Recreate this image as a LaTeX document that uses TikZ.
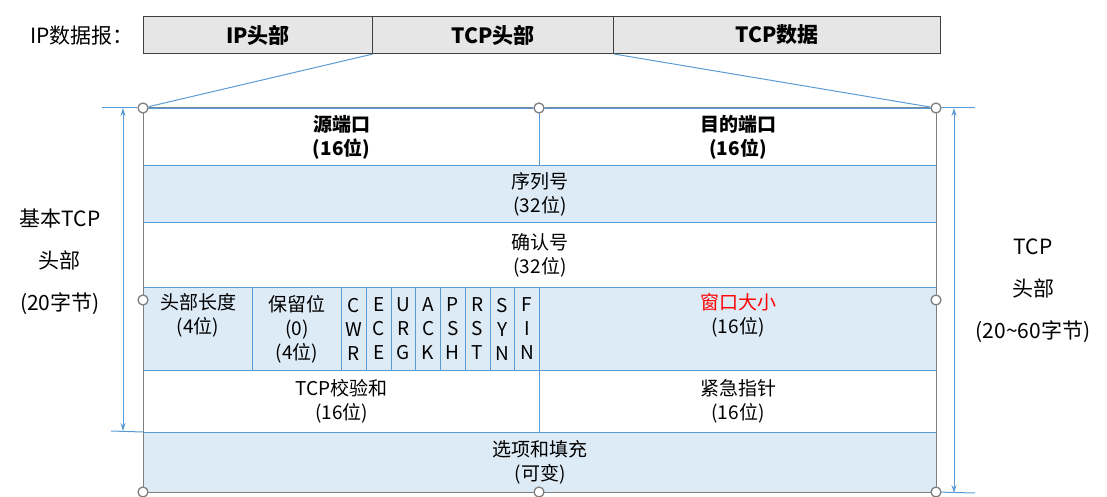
\documentclass[tikz,border=0pt]{standalone}
\usepackage{fontspec}
\setmainfont{Noto Sans CJK SC}
\usetikzlibrary{arrows.meta, positioning}
\definecolor{lblue}{HTML}{5B9BD5}
\definecolor{fblue}{HTML}{DDEBF7}
\definecolor{egrey}{HTML}{7F7F7F}
\definecolor{bgrey}{HTML}{E7E6E6}
\definecolor{wred}{HTML}{FF0000}
\tikzset{
  every picture/.style={line width=1pt},
  bar/.style={draw=black!75, fill=bgrey, anchor=north west, inner sep=0pt, minimum height=37pt, font=\fontsize{21}{24}\selectfont\bfseries},
  field/.style={draw=lblue, fill=#1, anchor=north west, inner sep=0pt, align=center, font=\fontsize{19}{24}\selectfont},
  field/.default=white,
  flag/.style={field=fblue, minimum width=24.75pt, minimum height=83pt},
  knob/.style={circle, draw=egrey, fill=white, line width=1.3pt, minimum size=10pt, inner sep=0pt},
  link/.style={draw=lblue},
  dim/.style={draw=lblue, {Stealth[length=8pt,width=5pt]}-{Stealth[length=8pt,width=5pt]}},
  side/.style={align=center, font=\fontsize{21}{42}\selectfont},
}

\begin{document}
\begin{tikzpicture}[x=1pt, y=-1pt]
  \useasboundingbox (0,0) rectangle (1107,497);
  % IP datagram bar
  \node[anchor=west, inner sep=0pt, font=\fontsize{21}{24}\selectfont] (dgram) at (30,36) {IP数据报：};
  \node[bar, minimum width=229pt] (iphdr) at (143,16) {IP头部};
  \node[bar, minimum width=241pt] (tcphdr) at (372,16) {TCP头部};
  \node[bar, minimum width=327pt] (tcpdata) at (613,16) {TCP数据};
  % header fields
  \node[field, font=\fontsize{19}{24}\selectfont\bfseries, minimum width=396pt, minimum height=57pt] (srcport) at (143,108) {源端口\\(16位)};
  \node[field, font=\fontsize{19}{24}\selectfont\bfseries, minimum width=397pt, minimum height=57pt] (dstport) at (539,108) {目的端口\\(16位)};
  \node[field=fblue, minimum width=793pt, minimum height=57pt] (seq) at (143,165) {序列号\\(32位)};
  \node[field, minimum width=793pt, minimum height=65pt] (ack) at (143,222) {确认号\\(32位)};
  \node[field=fblue, minimum width=109pt, minimum height=83pt] (hlen) at (143,287) {头部长度\\(4位)\\\strut};
  \node[field=fblue, minimum width=89pt, minimum height=83pt] (rsv) at (252,287) {保留位\\(0)\\(4位)};
  \foreach \a/\b/\c [count=\i from 0] in {C/W/R, E/C/E, U/R/G, A/C/K, P/S/H, R/S/T, S/Y/N, F/I/N}
    \node[flag] (flag\i) at (341+\i*24.75, 287) {\a\\\b\\\c};
  \node[field=fblue, minimum width=397pt, minimum height=83pt] (win) at (539,287) {\textcolor{wred}{窗口大小}\\(16位)\\\strut};
  \node[field, minimum width=396pt, minimum height=62pt] (csum) at (143,370) {TCP校验和\\(16位)};
  \node[field, minimum width=397pt, minimum height=62pt] (urgptr) at (539,370) {紧急指针\\(16位)};
  \node[field=fblue, minimum width=793pt, minimum height=60pt] (opts) at (143,432) {选项和填充\\(可变)};
  % knobs
  \node[knob] (ktl) at (143,108) {};
  \node[knob] (ktm) at (539,108) {};
  \node[knob] (ktr) at (936,108) {};
  \node[knob] (kml) at (143,300) {};
  \node[knob] (kmr) at (936,300) {};
  \node[knob] (kbl) at (143,492) {};
  \node[knob] (kbm) at (539,492) {};
  \node[knob] (kbr) at (936,492) {};
  % frame
  \draw[draw=egrey!70!lblue] (ktl) -- (ktm);
  \draw[draw=egrey!70!lblue] (ktm) -- (ktr);
  \draw[draw=egrey] (ktl) -- (kml);
  \draw[draw=egrey] (kml) -- (kbl);
  \draw[draw=egrey] (ktr) -- (kmr);
  \draw[draw=egrey] (kmr) -- (kbr);
  \draw[draw=egrey] (kbl) -- (kbm);
  \draw[draw=egrey] (kbm) -- (kbr);
  % zoom lines
  \draw[link] (iphdr.south east) -- (ktl);
  \draw[link] (tcphdr.south east) -- (ktr);
  % left dimension
  \coordinate (lt) at (102,108);
  \coordinate (lb) at (111,431);
  \coordinate (la) at (123,108);
  \coordinate (lz) at (123,431);
  \draw[link] (lt) -- (ktl);
  \draw[link] (lb) -- (opts.north west);
  \draw[dim] (la) -- (lz);
  \node[side] (basehdr) at (60,262) {基本TCP\\头部\\(20字节)};
  % right dimension
  \coordinate (rt) at (975,108);
  \coordinate (rb) at (975,493);
  \coordinate (ra) at (954,108);
  \coordinate (rz) at (954,493);
  \draw[link] (ktr) -- (rt);
  \draw[link] (kbr) -- (rb);
  \draw[dim] (ra) -- (rz);
  \node[side] (fullhdr) at (1033,291) {TCP\\头部\\(20\textasciitilde 60字节)};
\end{tikzpicture}
\end{document}
